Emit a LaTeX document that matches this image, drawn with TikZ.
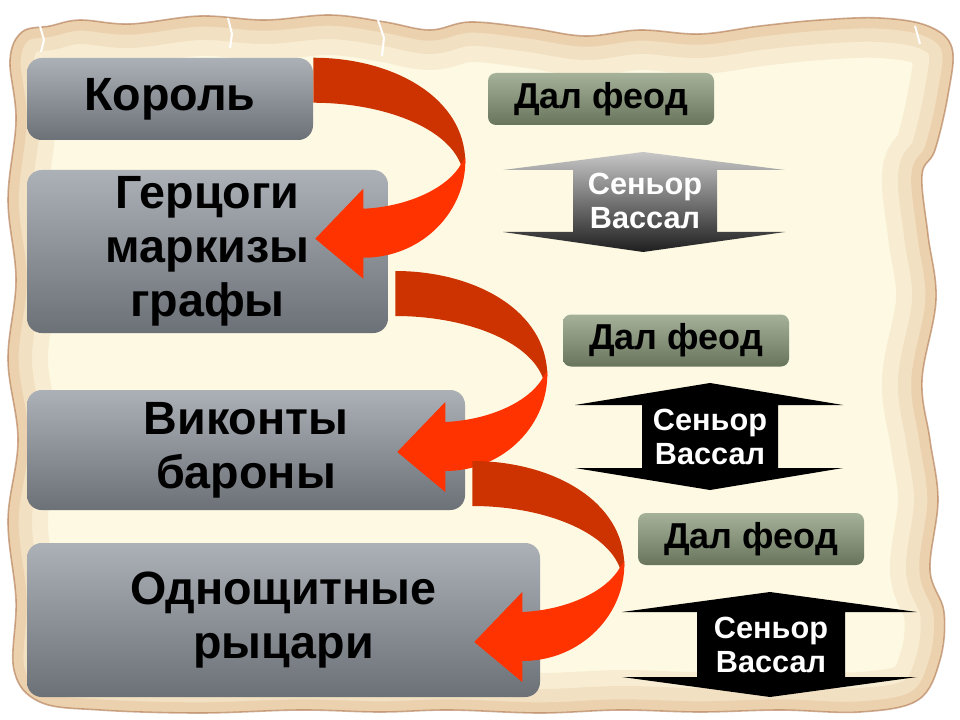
\documentclass[tikz,border=0pt]{standalone}
\usepackage{fontspec}
\setmainfont{Liberation Sans}
\usetikzlibrary{calc}
\definecolor{parchin}{RGB}{253,249,226}
\definecolor{parchout}{RGB}{226,188,146}
\definecolor{parchedge}{RGB}{170,110,70}
\definecolor{boxtop}{RGB}{172,177,184}
\definecolor{boxbot}{RGB}{108,113,120}
\definecolor{feodtop}{RGB}{166,177,153}
\definecolor{feodbot}{RGB}{104,117,92}
\definecolor{ribdark}{RGB}{204,51,0}
\definecolor{ribbright}{RGB}{255,51,0}
\tikzset{
  graybox/.style={rounded corners=11pt, top color=boxtop, bottom color=boxbot, inner sep=0pt, align=center, text=black,
    font=\bfseries\fontsize{35}{40.5}\selectfont},
  feodbox/.style={rounded corners=6pt, top color=feodtop, bottom color=feodbot, inner sep=0pt,
    minimum width=226*0.75pt, minimum height=52*0.75pt, text=black, font=\bfseries\fontsize{27}{30}\selectfont},
  svlabel/.style={text=white, align=center, inner sep=0pt, font=\bfseries\fontsize{23}{26}\selectfont},
  glow/.style={draw=parchout, opacity=0.3},
  ribbon/.pic={
    \fill[ribdark] (0,0) .. controls (80,0) and (152,40) .. (152,105) -- (148,108)
      .. controls (135,70) and (70,45) .. (0,45) -- cycle;
    \fill[ribbright] (152,100) .. controls (154,152) and (110,200) .. (50,200) -- (50,221) -- (2,181)
      -- (50,131) -- (50,151) .. controls (95,149) and (135,130) .. (148,106) -- cycle;
  }
}
\begin{document}
\begin{tikzpicture}[x=0.75pt,y=-0.75pt]
\fill[white] (0,0) rectangle (960,720);
\useasboundingbox (0,0) rectangle (960,720);
% parchment
\path[save path=\parchp]
  plot[smooth cycle, tension=0.6] coordinates {(10,60) (22,32) (50,26) (80,20) (130,24) (200,16) (265,20) (330,15) (385,22) (430,30) (470,22) (530,28) (585,36) (640,30) (700,34) (760,26) (820,20) (880,18) (928,26) (952,48) (948,95) (935,150) (922,175) (928,235) (936,300) (922,380) (930,440) (938,500) (930,570) (944,612) (940,660) (918,700) (860,712) (780,710) (700,712) (620,710) (540,713) (450,710) (380,712) (300,710) (200,713) (100,710) (40,702) (14,670) (16,600) (8,520) (18,440) (8,360) (16,280) (8,200) (16,120)};
\fill[parchin, use path=\parchp];
\begin{scope}
  \clip[use path=\parchp];
  \draw[glow, line width=60pt, opacity=0.18, use path=\parchp];
  \draw[glow, line width=36pt, opacity=0.25, use path=\parchp];
  \draw[glow, line width=16pt, opacity=0.4, use path=\parchp];
\end{scope}
\draw[parchedge, line width=1.2pt, opacity=0.55, use path=\parchp];
\draw[white, line width=1.5pt] (40,26) -- (44,40) -- (41,52);
\draw[white, line width=1.5pt] (378,20) -- (384,38) -- (382,56);
\draw[white, line width=1.5pt] (228,18) -- (232,34) -- (230,48);
\draw[white, line width=1.5pt] (915,26) -- (920,44);
% left boxes
\node[graybox, minimum width=286*0.75pt, minimum height=82*0.75pt] (korol) at (170,99) {Король};
\node[graybox, minimum width=361*0.75pt, minimum height=163*0.75pt] (gercogi) at (207.5,251.5) {Герцоги\\маркизы\\графы};
\node[graybox, minimum width=438*0.75pt, minimum height=120*0.75pt] (vikonty) at (246,450) {Виконты\\бароны};
\node[graybox, minimum width=513*0.75pt, minimum height=154*0.75pt] (rytsari) at (283.5,620) {Однощитные\\рыцари};
% ribbons
\pic at (korol.north east) {ribbon};
\pic at ($(gercogi.east)+(7,19.5)$) {ribbon};
\pic at ($(vikonty.east)+(7,11)$) {ribbon};
% feod boxes
\node[feodbox] (f1) at (601,99) {Дал феод};
\node[feodbox] (f2) at (676,340.5) {Дал феод};
\node[feodbox] (f3) at (751,539) {Дал феод};
% double arrows
\shade[top color=black!22, bottom color=black!88]
  (643,152) -- (785,170) -- (717,170) -- (717,232) -- (785,232) -- (643,252) -- (503,232) -- (573,232) -- (573,170) -- (503,170) -- cycle;
\fill[black]
  (710,383) -- (843,405) -- (778,405) -- (778,468) -- (843,468) -- (710,490) -- (575,468) -- (642,468) -- (642,405) -- (575,405) -- cycle;
\fill[black]
  (770,592) -- (917,612) -- (845,612) -- (845,677) -- (917,677) -- (770,697) -- (622,677) -- (697,677) -- (697,612) -- (622,612) -- cycle;
\node[svlabel] (sv1) at (645,201) {Сеньор\\Вассал};
\node[svlabel] (sv2) at (710,437) {Сеньор\\Вассал};
\node[svlabel] (sv3) at (771,645) {Сеньор\\Вассал};
\end{tikzpicture}
\end{document}
